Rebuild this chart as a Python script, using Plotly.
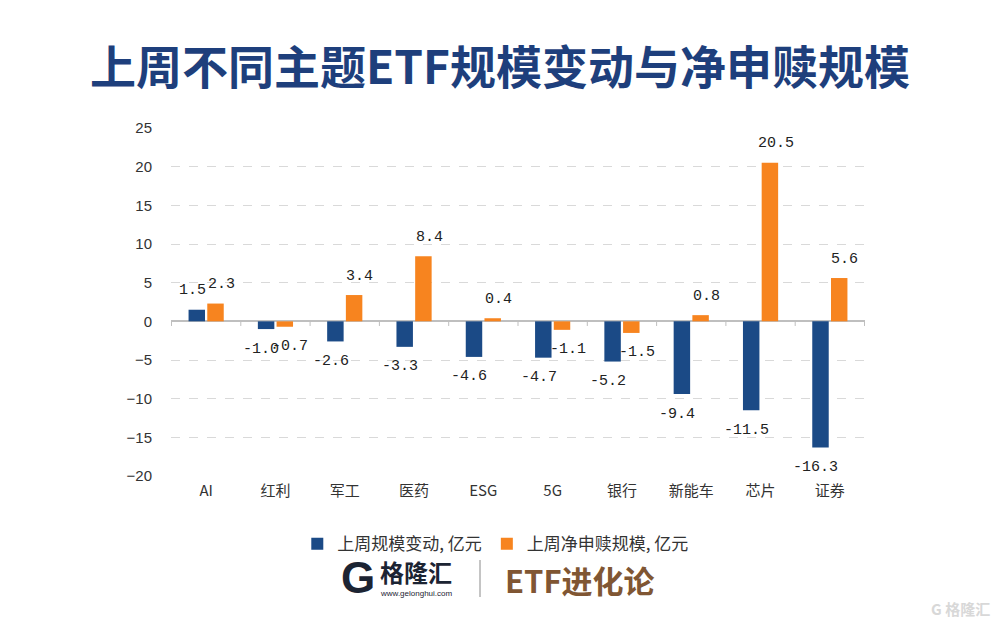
import plotly.graph_objects as go

categories = ["AI", "红利", "军工", "医药", "ESG", "5G", "银行", "新能车", "芯片", "证券"]
scale_change = [1.5, -1.0, -2.6, -3.3, -4.6, -4.7, -5.2, -9.4, -11.5, -16.3]
net_subscription = [2.3, -0.7, 3.4, 8.4, 0.4, -1.1, -1.5, 0.8, 20.5, 5.6]
series_names = ["上周规模变动, 亿元", "上周净申赎规模, 亿元"]
y_ticks = [-20, -15, -10, -5, 0, 5, 10, 15, 20, 25]

BLUE = "#1B4A86"
ORANGE = "#F7841F"
label_font = dict(family="Liberation Mono, DejaVu Sans Mono, monospace", size=15, color="#222222")

fig = go.Figure()
fig.add_trace(go.Bar(x=categories, y=scale_change, name=series_names[0],
                     marker=dict(color=BLUE, line=dict(width=0))))
fig.add_trace(go.Bar(x=categories, y=net_subscription, name=series_names[1],
                     marker=dict(color=ORANGE, line=dict(width=0))))

# data labels anchored to the data values (series-level offsets only)
for values, xs in ((scale_change, -14), (net_subscription, 15)):
    for cat, v in zip(categories, values):
        fig.add_annotation(x=cat, y=v, xref="x", yref="y", text=f"{v:.1f}",
                           showarrow=False, xanchor="center", yanchor="middle",
                           xshift=xs, yshift=19 if v >= 0 else -20, font=label_font)

fig.update_layout(
    width=1000, height=627,
    paper_bgcolor="white", plot_bgcolor="white",
    margin=dict(l=171, r=135, t=128, b=151),
    barmode="group", bargap=0.46, bargroupgap=0.12,
    font=dict(family="Noto Sans CJK SC, Liberation Sans, sans-serif", color="#333333"),
    showlegend=True,
    legend=dict(orientation="h", x=0.468, y=-0.196, xanchor="center", yanchor="middle",
                font=dict(size=17, color="#333333", family="Noto Sans CJK SC"),
                itemwidth=30, traceorder="normal", bgcolor="rgba(0,0,0,0)"),
    title=dict(text="<b>上周不同主题ETF规模变动与净申赎规模</b>", x=0.5, xanchor="center",
               y=0.892, yanchor="middle",
               font=dict(size=46, color="#1E3F7C", family="Noto Sans CJK SC")),
)

fig.update_yaxes(
    range=[-20, 25], tickvals=y_ticks, showgrid=True,
    gridcolor="#D9D9D9", griddash="dash", gridwidth=1,
    zeroline=True, zerolinecolor="#BFBFBF", zerolinewidth=1.5,
    tickfont=dict(size=15, color="#333333", family="Liberation Sans, Arial"),
    ticklabelstandoff=18, showline=False,
)
fig.update_xaxes(
    showgrid=False, showline=False, ticks="",
    tickfont=dict(size=15, color="#333333", family="Noto Sans CJK SC"),
    ticklabelstandoff=4,
)

# small category-boundary tick marks on the zero line
for i in range(len(categories) + 1):
    fig.add_shape(type="line", xref="x", yref="y", x0=i - 0.5, x1=i - 0.5, y0=0, y1=-0.6,
                  line=dict(color="#BFBFBF", width=1))

# Branding footer
fig.add_annotation(xref="paper", yref="paper", x=(358-171)/694, y=(476-577)/348,
                   text="<b>G</b>", showarrow=False, xanchor="center", yanchor="middle",
                   font=dict(size=44, color="#1C2433", family="Liberation Sans"))
fig.add_annotation(xref="paper", yref="paper", x=(416-171)/694, y=(476-571)/348,
                   text="<b>格隆汇</b>", showarrow=False, xanchor="center", yanchor="middle",
                   font=dict(size=24, color="#1C2433", family="Noto Sans CJK SC"))
fig.add_annotation(xref="paper", yref="paper", x=(416-171)/694, y=(476-593)/348,
                   text="www.gelonghui.com", showarrow=False, xanchor="center", yanchor="middle",
                   font=dict(size=8, color="#1C2433", family="Liberation Sans"))
fig.add_shape(type="line", xref="paper", yref="paper",
              x0=(480-171)/694, x1=(480-171)/694, y0=(476-560)/348, y1=(476-597)/348,
              line=dict(color="#8A8A8A", width=1))
fig.add_annotation(xref="paper", yref="paper", x=(580-171)/694, y=(476-579)/348,
                   text="<b>ETF进化论</b>", showarrow=False, xanchor="center", yanchor="middle",
                   font=dict(size=31, color="#805633", family="Noto Sans CJK SC"))
fig.add_annotation(xref="paper", yref="paper", x=(960-171)/694, y=(476-608)/348,
                   text="<b>G 格隆汇</b>", showarrow=False, xanchor="center", yanchor="middle",
                   font=dict(size=15, color="#D8D8D8", family="Noto Sans CJK SC"))

fig.write_html("out.html")
